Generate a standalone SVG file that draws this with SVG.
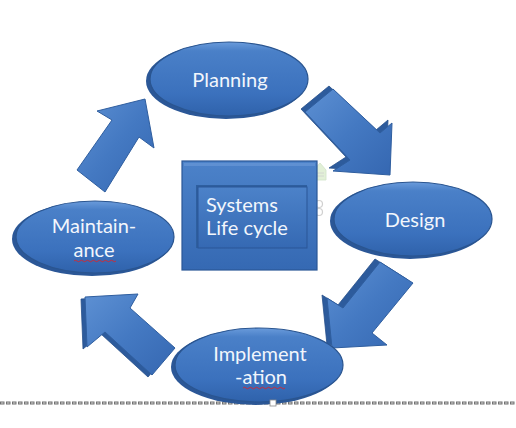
<svg xmlns="http://www.w3.org/2000/svg" width="516" height="428" viewBox="0 0 516 428">
  <defs>
    <linearGradient id="gEll" x1="0" y1="0" x2="0" y2="1">
      <stop offset="0" stop-color="#6a9bdb"/>
      <stop offset="0.12" stop-color="#4a80c8"/>
      <stop offset="0.7" stop-color="#3b71bd"/>
      <stop offset="1" stop-color="#2f62ab"/>
    </linearGradient>
    <linearGradient id="gArrow" x1="0" y1="0" x2="1" y2="1">
      <stop offset="0" stop-color="#5d90d3"/>
      <stop offset="0.5" stop-color="#4479c2"/>
      <stop offset="1" stop-color="#3567b1"/>
    </linearGradient>
    <linearGradient id="gBox" x1="0" y1="0" x2="0" y2="1">
      <stop offset="0" stop-color="#4c82c9"/>
      <stop offset="1" stop-color="#3569b3"/>
    </linearGradient>
    <style>
      .back { fill: #2b5797; }
      .ell { fill: url(#gEll); stroke: #2a5590; stroke-width: 1.2; }
      .arr { fill: url(#gArrow); stroke: #2f5e9f; stroke-width: 1; stroke-linejoin: round; }
      .arrback { fill: #2d5b9c; stroke: #264f8a; stroke-width: 0.8; }
      .lbl { font-family: Lato, "Open Sans", "Liberation Sans", sans-serif; font-size: 20px; fill: #f2f6fc; }
      .mid { text-anchor: middle; }
      .sq { fill: none; stroke: #d9262b; stroke-width: 0.9; }
    </style>
  </defs>

  <rect width="516" height="428" fill="#ffffff"/>

  <!-- page boundary marker -->
  <g id="page-line">
    <line x1="0" y1="403" x2="516" y2="403" stroke="#707070" stroke-width="3" stroke-dasharray="4.5 1.5"/>
    <line x1="0" y1="403" x2="516" y2="403" stroke="#d8d8d8" stroke-width="1" stroke-dasharray="2.5 3.5" stroke-dashoffset="-1"/>
  </g>

  <!-- faint layout icons -->
  <g id="layout-icons" opacity="0.45">
    <path d="M314 170 L320 163 L326 170 L326 180 L314 180 Z" fill="#bfe0a8" stroke="#9cc389" stroke-width="0.8"/>
    <line x1="316" y1="173" x2="324" y2="173" stroke="#999" stroke-width="0.8"/>
    <line x1="316" y1="176" x2="324" y2="176" stroke="#999" stroke-width="0.8"/>
    <circle cx="319" cy="204" r="3.5" fill="none" stroke="#999" stroke-width="1.2"/>
    <circle cx="319" cy="212" r="3.5" fill="none" stroke="#999" stroke-width="1.2"/>
  </g>

  <!-- connectors -->
  <g id="connectors">
    <!-- Maintenance -> Planning -->
    <g id="arrow-maint-plan">
      <polygon class="arr" points="145,99 97,111 112,120 77,170 105,192 139,137 154,148"/>
    </g>
    <!-- Planning -> Design -->
    <g id="arrow-plan-design">
      <polygon class="arrback" points="301,109 329,86 376,130 388,120 386,172 329,168 346,157"/>
      <polygon class="arr" points="305,112 333,89 380,133 392,123 390,175 333,171 350,160"/>
    </g>
    <!-- Design -> Implementation -->
    <g id="arrow-design-impl">
      <polygon class="arrback" points="375,259 408,280 367,330 382,342 327,345 322,295 338,305"/>
      <polygon class="arr" points="380,262 413,283 372,333 387,345 332,348 327,298 343,308"/>
    </g>
    <!-- Implementation -> Maintenance -->
    <g id="arrow-impl-maint">
      <polygon class="arrback" points="81,299 134,296 126,310 171,350 148,377 101,334 83,349"/>
      <polygon class="arr" points="85,297 138,294 130,308 175,348 152,375 105,332 87,347"/>
    </g>
  </g>

  <!-- Planning -->
  <g id="node-planning">
    <ellipse class="back" cx="226" cy="81" rx="80" ry="38"/>
    <ellipse class="ell" cx="229" cy="79" rx="79" ry="37"/>
    <text class="lbl mid" x="230" y="87">Planning</text>
  </g>

  <!-- Design -->
  <g id="node-design">
    <ellipse class="back" cx="410" cy="221" rx="80" ry="38"/>
    <ellipse class="ell" cx="413" cy="219" rx="79" ry="37"/>
    <text class="lbl mid" x="415" y="227">Design</text>
  </g>

  <!-- Maintenance -->
  <g id="node-maintenance">
    <ellipse class="back" cx="92" cy="239" rx="80" ry="37"/>
    <ellipse class="ell" cx="95" cy="237" rx="79" ry="36"/>
    <text class="lbl mid" x="94" y="233">Maintain-</text>
    <text class="lbl mid" x="94" y="257">ance</text>
    <path class="sq" d="M74 261 q1.5 -1.5 3 0 t3 0 t3 0 t3 0 t3 0 t3 0 t3 0 t3 0 t3 0 t3 0 t3 0 t3 0 t3 0 t3 0"/>
  </g>

  <!-- Implementation -->
  <g id="node-implementation">
    <ellipse class="back" cx="256" cy="367" rx="85" ry="38"/>
    <ellipse class="ell" cx="259" cy="365" rx="84" ry="37"/>
    <text class="lbl mid" x="260" y="361">Implement</text>
    <text class="lbl mid" x="261" y="384">-ation</text>
    <path class="sq" d="M243 388 q1.5 -1.5 3 0 t3 0 t3 0 t3 0 t3 0 t3 0 t3 0 t3 0 t3 0 t3 0 t3 0 t3 0 t3 0 t3 0"/>
    <rect x="270" y="400" width="6" height="6" fill="#ffffff" stroke="#8a8a8a" stroke-width="0.8"/>
  </g>

  <!-- Centre box -->
  <g id="node-systems-life-cycle">
    <rect x="182" y="161" width="135" height="109" fill="url(#gBox)" stroke="#2b5797" stroke-width="1.2"/>
    <rect x="184" y="163" width="131" height="3" fill="#6c9bd9" opacity="0.6"/>
    <rect x="196" y="185" width="111" height="63" fill="#2e5f9f"/>
    <rect x="198" y="187" width="109" height="61" fill="url(#gBox)" stroke="#2b5797" stroke-width="1"/>
    <text class="lbl" x="206" y="212">Systems</text>
    <text class="lbl" x="206" y="235">Life cycle</text>
  </g>
</svg>
